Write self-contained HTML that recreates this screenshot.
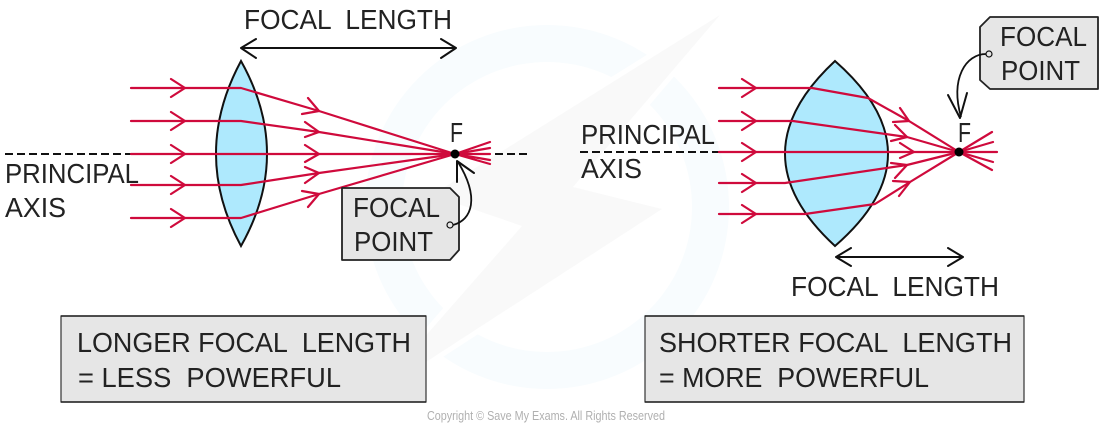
<!DOCTYPE html>
<html>
<head>
<meta charset="utf-8">
<style>
html,body{margin:0;padding:0;background:#fff;width:1100px;height:427px;overflow:hidden}
svg{display:block}
text{font-family:"Liberation Sans",sans-serif;font-size:28px;fill:#222}
.r{fill:none;stroke:#cf0a3c;stroke-width:2.2;stroke-linejoin:round;stroke-linecap:round}
.k{fill:none;stroke:#111;stroke-width:2;stroke-linecap:round;stroke-linejoin:round}
.tag{fill:#e6e6e6;stroke:#222;stroke-width:1.8;stroke-linejoin:round}
.box{fill:#e6e6e6;stroke:#333;stroke-width:1.2}
.d{stroke:#111;stroke-width:2;stroke-dasharray:8 4;fill:none}
</style>
</head>
<body>
<svg width="1100" height="427" viewBox="0 0 1100 427" xmlns="http://www.w3.org/2000/svg">
<!-- watermark -->
<path d="M365,207 A182,182 0 0 1 729,207 A182,182 0 0 1 547,389 A182,182 0 0 1 365,207 Z M402,207 A145,145 0 0 0 692,207 A145,145 0 0 0 402,207 Z" fill="#f8fcfe" fill-rule="evenodd"/>
<polygon points="720,15 432,195 522,226 372,397 662,209 573,187" fill="#f9f9f9" stroke="#fff" stroke-width="10" paint-order="stroke"/>

<!-- LEFT lens -->
<path d="M241,61 Q191,154 241,246 Q293,154 241,61 Z" fill="#aee9fd" stroke="#111" stroke-width="2"/>
<line x1="5" y1="154" x2="133" y2="154" class="d"/>
<line x1="495" y1="154" x2="527" y2="154" class="d"/>
<path class="r" d="M131,88H241L319,111L455,154L490,142"/>
<path class="r" d="M131,121H241L319,132L455,154L490,148"/>
<path class="r" d="M131,154H490"/>
<path class="r" d="M131,185H241L319,173L455,154L490,160"/>
<path class="r" d="M131,218H241L319,194L455,154L490,164"/>
<path class="r" d="M171,79L185,88L171,97M171,112L185,121L171,130M171,145L185,154L171,163M171,176L185,185L171,194M171,209L185,218L171,227"/>
<path class="r" d="M308,98L319,111L302,114M305,122L319,132L305,137M305,145L319,154L305,162M305,167L319,173L305,183M302,191L319,194L308,207"/>
<circle cx="455" cy="154" r="4.5" fill="#000"/>
<text x="450" y="142" textLength="13" lengthAdjust="spacingAndGlyphs">F</text>

<path class="k" d="M241,48H456M256,39L241,48L256,58M441,39L456,48L441,58"/>
<text x="244" y="29" textLength="208" lengthAdjust="spacingAndGlyphs" xml:space="preserve">FOCAL  LENGTH</text>
<text x="5" y="183" textLength="134" lengthAdjust="spacingAndGlyphs">PRINCIPAL</text>
<text x="5" y="217" textLength="61" lengthAdjust="spacingAndGlyphs">AXIS</text>

<polygon class="tag" points="342,188 450,188 459,197 459,250 450,260 342,260"/>
<text x="353" y="217" textLength="87" lengthAdjust="spacingAndGlyphs">FOCAL</text>
<text x="354" y="251" textLength="79" lengthAdjust="spacingAndGlyphs">POINT</text>
<circle cx="450" cy="225" r="3" fill="none" stroke="#111" stroke-width="1.2"/>
<path d="M453,225C472,220 480,198 458,162" fill="none" stroke="#111" stroke-width="1.8"/>
<path class="k" d="M457,182L457,161L474,173"/>

<!-- RIGHT lens -->
<path d="M835,61 Q735,154 835,246 Q941,154 835,61 Z" fill="#aee9fd" stroke="#111" stroke-width="2"/>
<line x1="580" y1="152" x2="719" y2="152" class="d"/>
<path class="r" d="M719,88H812L868,98L909,121L959,152L992,132"/>
<path class="r" d="M719,121H793L907,137L959,152L993,142"/>
<path class="r" d="M719,152H997"/>
<path class="r" d="M719,183H785L907,165L959,152L993,162"/>
<path class="r" d="M719,214H805L875,204L910,182L959,152L992,170"/>
<path class="r" d="M742,79L756,88L742,97M742,112L756,121L742,130M742,143L756,152L742,161M742,174L756,183L742,192M742,205L756,214L742,223"/>
<path class="r" d="M900,108L909,121L893,122M895,125L907,137L891,141M900,143L914,152L900,158M891,163L907,165L895,178M893,181L910,182L899,196"/>
<circle cx="959" cy="152" r="4.5" fill="#000"/>
<text x="958" y="142" textLength="13" lengthAdjust="spacingAndGlyphs">F</text>

<path class="k" d="M836,257H963M851,248L836,257L851,266M948,248L963,257L948,266"/>
<text x="791" y="296" textLength="208" lengthAdjust="spacingAndGlyphs" xml:space="preserve">FOCAL  LENGTH</text>
<text x="581" y="144" textLength="134" lengthAdjust="spacingAndGlyphs">PRINCIPAL</text>
<text x="581" y="178" textLength="61" lengthAdjust="spacingAndGlyphs">AXIS</text>

<polygon class="tag" points="990,17 1098,17 1098,89 990,89 980,80 980,27"/>
<text x="1000" y="46" textLength="87" lengthAdjust="spacingAndGlyphs">FOCAL</text>
<text x="1001" y="80" textLength="79" lengthAdjust="spacingAndGlyphs">POINT</text>
<circle cx="989" cy="54" r="3" fill="none" stroke="#111" stroke-width="1.2"/>
<path d="M986,54C966,54 950,78 961,117" fill="none" stroke="#111" stroke-width="1.8"/>
<path class="k" d="M948,95L960,118L967,93"/>

<!-- Bottom boxes -->
<rect class="box" x="61" y="316" width="365" height="86"/>
<path d="M61,316H426" stroke="#222" stroke-width="1.4"/>
<path d="M61,402H426" stroke="#222" stroke-width="1.4"/>
<text x="77" y="352" textLength="334" lengthAdjust="spacingAndGlyphs" xml:space="preserve">LONGER FOCAL  LENGTH</text>
<text x="78" y="387" textLength="263" lengthAdjust="spacingAndGlyphs" xml:space="preserve">= LESS  POWERFUL</text>

<rect class="box" x="645" y="316" width="379" height="86"/>
<path d="M645,316H1024" stroke="#222" stroke-width="1.4"/>
<path d="M645,402H1024" stroke="#222" stroke-width="1.4"/>
<text x="659" y="352" textLength="353" lengthAdjust="spacingAndGlyphs" xml:space="preserve">SHORTER FOCAL  LENGTH</text>
<text x="659" y="387" textLength="270" lengthAdjust="spacingAndGlyphs" xml:space="preserve">= MORE  POWERFUL</text>

<text x="427" y="420" textLength="238" lengthAdjust="spacingAndGlyphs" style="font-size:13px;fill:#b0b0b0">Copyright © Save My Exams. All Rights Reserved</text>
</svg>
</body>
</html>
